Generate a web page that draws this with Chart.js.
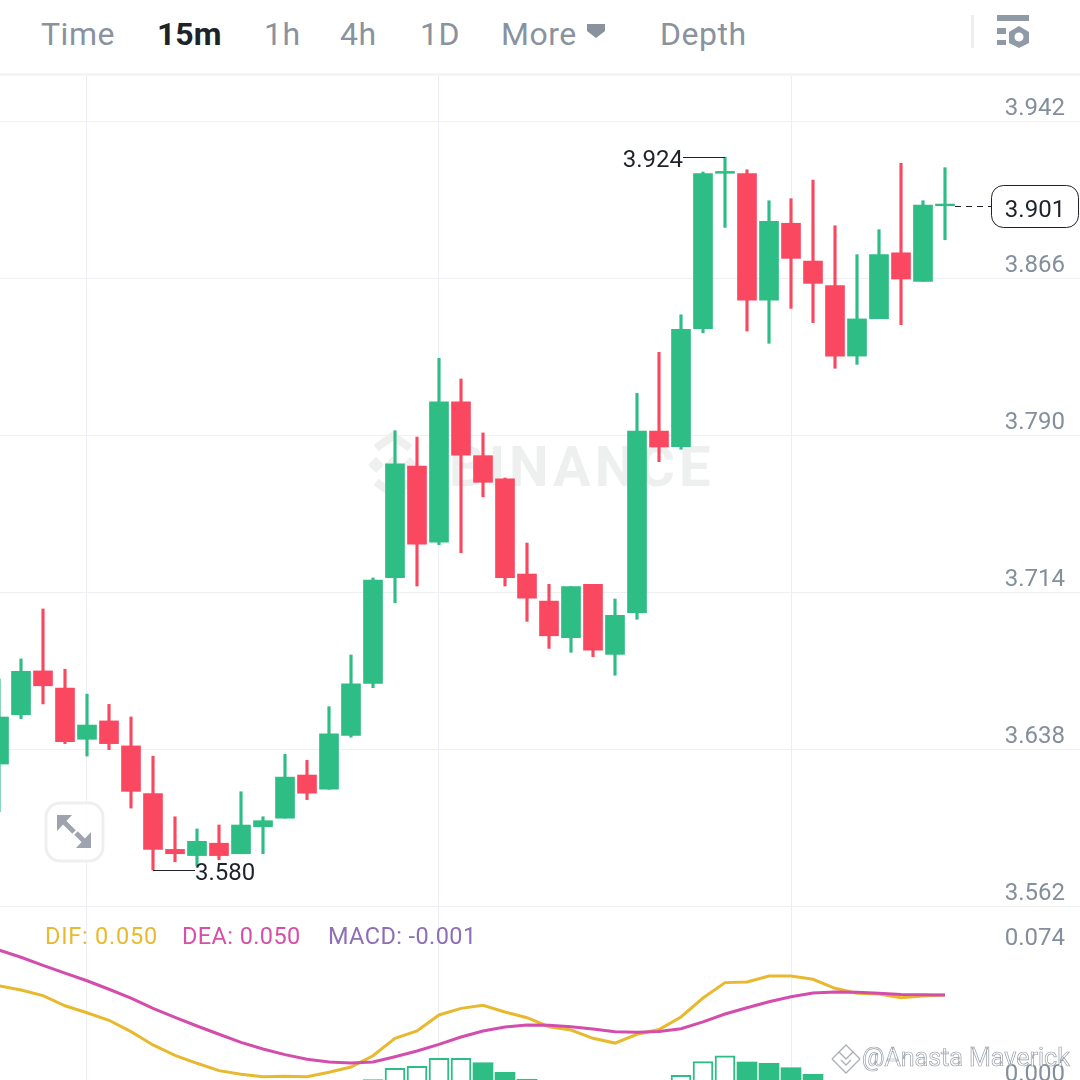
<!DOCTYPE html>
<html>
<head>
<meta charset="utf-8">
<title>15m chart</title>
<script src="https://cdn.jsdelivr.net/npm/chart.js@4"></script>
<style>
  html, body { margin: 0; padding: 0; background: #fff; width: 1080px; height: 1080px; overflow: hidden; font-family: Roboto, sans-serif; }
  #chart { position: absolute; left: 0; top: 75px; }
  .tab { position: absolute; top: 14px; font-size: 32px; line-height: 40px; color: #8a929e; letter-spacing: .5px; white-space: nowrap; }
  .tab.on { color: #1e2329; font-weight: 700; letter-spacing: 0; }
  #headerLine { position: absolute; left: 0; top: 73px; width: 1080px; height: 3px; background: #f5f5f5; }
  .macdLabel { position: absolute; top: 922px; font-size: 23.5px; line-height: 28px; white-space: nowrap; letter-spacing: .4px; }
  #credit { position: absolute; left: 862px; top: 1043px; font-size: 25px; line-height: 30px; color: #fff; -webkit-text-stroke: .7px #9aa0a8; white-space: nowrap; }
  svg { position: absolute; left: 0; top: 0; pointer-events: none; }
</style>
</head>
<body>
<canvas id="chart" width="1080" height="1012"></canvas>

<div id="headerLine"></div>
<span class="tab" style="left:41px">Time</span>
<span class="tab on" style="left:157px">15m</span>
<span class="tab" style="left:264px">1h</span>
<span class="tab" style="left:340px">4h</span>
<span class="tab" style="left:420px">1D</span>
<span class="tab" style="left:501px">More</span>
<span class="tab" style="left:660px">Depth</span>

<span class="macdLabel" style="left:45px;color:#e8ba30;letter-spacing:.75px">DIF: 0.050</span>
<span class="macdLabel" style="left:182px;color:#d74fa6">DEA: 0.050</span>
<span class="macdLabel" style="left:328px;color:#8e6fb5">MACD: -0.001</span>
<span id="credit">@Anasta Maverick</span>

<svg width="1080" height="1080">
  <!-- dropdown triangle -->
  <polygon points="587,24 605,24 605,31 596,38 587,31" fill="#8a929e"/>
  <!-- settings icon -->
  <rect x="971" y="15" width="3" height="33" fill="#eeeeee"/>
  <rect x="997" y="15" width="32" height="6" fill="#9099a6"/>
  <rect x="997" y="28" width="9" height="6" fill="#9099a6"/>
  <rect x="997" y="40" width="9" height="5" fill="#9099a6"/>
  <polygon points="1019,26 1029,32 1029,43 1019,48 1009,43 1009,32" fill="#9099a6"/>
  <circle cx="1019" cy="37" r="4.5" fill="#fff"/>
  <!-- expand button -->
  <rect x="46" y="803" width="57" height="58" rx="14" fill="#fff" fill-opacity=".85" stroke="#eeeff0" stroke-width="3"/>
  <polygon points="57,815 72,815 57,831" fill="#9ea3ad"/>
  <line x1="62" y1="820" x2="74" y2="832" stroke="#9ea3ad" stroke-width="5"/>
  <polygon points="91,848 76,848 91,832" fill="#9ea3ad"/>
  <line x1="86" y1="843" x2="76" y2="833" stroke="#9ea3ad" stroke-width="5"/>
  <!-- credit mark -->
  <g fill="none" stroke="#aab0b7" stroke-width="1.3">
    <polyline points="832,1059 846,1073 860,1059"/>
    <polyline points="832,1059 839,1052 846,1059 853,1052 860,1059"/>
    <polyline points="839,1052 846,1045 853,1052"/>
    <polyline points="841,1060 846,1065 851,1060"/>
  </g>
</svg>

<script>
// candles, left to right
const opens = [3.6307,3.6546,3.6758,3.6675,3.6427,3.6516,3.6395,3.6164,3.5894,3.5864,3.5924,3.5873,3.6004,3.6045,3.6254,3.6185,3.6446,3.6698,3.7209,3.7750,3.7381,3.8060,3.7800,3.7688,3.7227,3.7096,3.6919,3.7177,3.6838,3.7040,3.7919,3.7843,3.8415,3.9167,3.9165,3.8553,3.8925,3.8742,3.8623,3.8282,3.8463,3.8782,3.8644,3.9010];
const highs = [3.6719,3.6816,3.7058,3.6766,3.6646,3.6596,3.6535,3.6345,3.6052,3.5993,3.6012,3.6173,3.6052,3.6354,3.6325,3.6585,3.6835,3.7208,3.7921,3.7890,3.8271,3.8171,3.7910,3.7692,3.7377,3.7177,3.7166,3.7177,3.7106,3.8102,3.8300,3.8482,3.9173,3.9245,3.9184,3.9034,3.9044,3.9134,3.8913,3.8773,3.8894,3.9215,3.9034,3.9194];
const lows = [3.6075,3.6527,3.6598,3.6406,3.6346,3.6377,3.6094,3.5794,3.5834,3.5814,3.5844,3.5873,3.5873,3.6045,3.6135,3.6185,3.6437,3.6677,3.7088,3.7169,3.7369,3.7330,3.7601,3.7169,3.6998,3.6867,3.6848,3.6827,3.6737,3.7008,3.7771,3.7831,3.8395,3.8905,3.8403,3.8344,3.8513,3.8444,3.8223,3.8242,3.8463,3.8434,3.8644,3.8845];
const closes = [3.6535,3.6756,3.6686,3.6415,3.6496,3.6406,3.6175,3.5894,3.5873,3.5933,3.5864,3.6012,3.6033,3.6244,3.6166,3.6454,3.6695,3.7198,3.7760,3.7371,3.8060,3.7802,3.7671,3.7209,3.7110,3.6928,3.7166,3.6858,3.7027,3.7919,3.7842,3.8412,3.9165,3.9176,3.8553,3.8934,3.8755,3.8634,3.8282,3.8462,3.8773,3.8655,3.9013,3.9018];

// MACD pane
const difValues = [.0551,.0528,.0497,.0442,.0404,.0363,.0301,.0229,.0172,.0129,.0089,.0069,.0056,.0058,.0056,.0080,.0109,.0170,.0265,.0305,.0392,.0428,.0445,.0408,.0377,.0328,.0310,.0265,.0239,.0287,.0313,.0381,.0484,.0568,.0571,.0604,.0604,.0586,.0537,.0510,.0506,.0486,.0495,.0501];
const deaValues = [.0745,.0706,.0662,.0620,.0578,.0532,.0483,.0428,.0379,.0332,.0287,.0243,.0207,.0176,.0151,.0136,.0131,.0136,.0165,.0196,.0232,.0272,.0305,.0326,.0337,.0336,.0328,.0316,.0301,.0298,.0302,.0317,.0354,.0397,.0431,.0464,.0491,.0511,.0517,.0515,.0510,.0504,.0502,.0501];
const macdBars = [null,null,null,null,null,null,null,null,null,null,null,null,null,null,null,null,null,.0041,.0102,.0113,.0156,.0156,.0132,.0080,.0042,null,null,null,null,null,null,.0063,.0138,.0170,.0136,.0129,.0105,.0069,null,null,null,null,null,null];

// axes
const priceTicks = [3.942, 3.866, 3.79, 3.714, 3.638, 3.562];
const macdTicks = [0.074, 0];
const gridCandles = [4, 20, 36];

const GREEN = '#2ebd85';
const RED = '#fa4861';
const PRICE_FONT = '24px Roboto, sans-serif';

const candleColor = opens.map((o, i) => closes[i] >= o ? GREEN : RED);
const hollow = macdBars.map((v, i) => v !== null && i > 0 && v >= (macdBars[i - 1] || 0));

// the axes take no room, their labels sit inside the plot
function noRoom(axis) {
    axis.width = 0;
    axis.paddingTop = 0;
    axis.paddingBottom = 0;
    axis.paddingLeft = 0;
    axis.paddingRight = 0;
}

// faint logo and name behind the candles
const watermark = {
    id: 'watermark',
    beforeDatasetsDraw(chart) {
        const c = chart.ctx;
        const cx = 393, cy = 390;
        c.save();
        c.fillStyle = '#eef0f0';
        const diamond = (x, y, r) => {
            c.beginPath();
            c.moveTo(x, y - r); c.lineTo(x + r, y); c.lineTo(x, y + r); c.lineTo(x - r, y);
            c.closePath(); c.fill();
        };
        diamond(cx, cy, 9);
        diamond(cx - 17, cy, 8);
        diamond(cx + 17, cy, 8);
        c.strokeStyle = '#eef0f0';
        c.lineWidth = 8;
        c.beginPath(); c.moveTo(cx - 17, cy - 17); c.lineTo(cx, cy - 29); c.lineTo(cx + 17, cy - 17); c.stroke();
        c.beginPath(); c.moveTo(cx - 17, cy + 17); c.lineTo(cx, cy + 29); c.lineTo(cx + 17, cy + 17); c.stroke();
        c.font = '700 56px Roboto, sans-serif';
        c.letterSpacing = '4px';
        c.textBaseline = 'middle';
        c.fillText('BINANCE', 449, 397);
        c.restore();
    }
};

// high / low tags and the last price box
const priceTags = {
    id: 'priceTags',
    afterDatasetsDraw(chart) {
        const c = chart.ctx, x = chart.scales.x, y = chart.scales.y;
        const hiIdx = highs.indexOf(Math.max(...highs));
        const loIdx = lows.indexOf(Math.min(...lows));
        const last = closes.length - 1;
        c.save();
        c.font = PRICE_FONT;
        c.fillStyle = '#1e2329';
        c.strokeStyle = '#1e2329';
        c.lineWidth = 1;
        c.textBaseline = 'middle';

        const hiX = x.getPixelForValue(hiIdx), hiY = Math.round(y.getPixelForValue(highs[hiIdx])) + .5;
        c.beginPath(); c.moveTo(hiX, hiY); c.lineTo(hiX - 42, hiY); c.stroke();
        c.textAlign = 'right';
        c.fillText('3.924', hiX - 42, hiY + 3);

        const loX = x.getPixelForValue(loIdx), loY = Math.round(y.getPixelForValue(lows[loIdx])) + .5;
        c.beginPath(); c.moveTo(loX, loY); c.lineTo(loX + 42, loY); c.stroke();
        c.textAlign = 'left';
        c.fillText('3.580', loX + 42, loY + 3);

        const lastY = Math.round(y.getPixelForValue(3.901)) + .5;
        c.setLineDash([6, 5]);
        c.beginPath(); c.moveTo(x.getPixelForValue(last) + 10, lastY); c.lineTo(991, lastY); c.stroke();
        c.setLineDash([]);
        c.beginPath();
        c.roundRect(991.5, lastY - 21, 87, 42, 12);
        c.fillStyle = '#fff';
        c.fill();
        c.stroke();
        c.fillStyle = '#1e2329';
        c.textAlign = 'center';
        c.fillText('3.901', 1035, lastY + 4);
        c.restore();
    }
};

const candleIndex = opens.map((o, i) => i);

new Chart(document.getElementById('chart'), {
    type: 'bar',
    data: {
        datasets: [
            {
                type: 'line',
                yAxisID: 'macd',
                data: candleIndex.map(i => ({ x: i, y: difValues[i] })),
                borderColor: '#e8b92e',
                borderWidth: 3,
                pointRadius: 0,
                tension: 0,
                order: 2
            },
            {
                type: 'line',
                yAxisID: 'macd',
                data: candleIndex.map(i => ({ x: i, y: deaValues[i] })),
                borderColor: '#d34dac',
                borderWidth: 3,
                pointRadius: 0,
                tension: 0,
                order: 1
            },
            {
                yAxisID: 'macd',
                data: candleIndex.map(i => ({ x: i, y: macdBars[i] })),
                backgroundColor: hollow.map(h => h ? '#fff' : GREEN),
                borderColor: GREEN,
                borderWidth: hollow.map(h => h ? 2 : 0),
                barThickness: 20,
                grouped: false,
                order: 3
            },
            {
                yAxisID: 'y',
                data: candleIndex.map(i => ({ x: i, y: [lows[i], highs[i]] })),
                backgroundColor: candleColor,
                barThickness: 2.5,
                grouped: false,
                order: 5
            },
            {
                yAxisID: 'y',
                data: candleIndex.map(i => ({ x: i, y: [opens[i], closes[i]] })),
                backgroundColor: candleColor,
                barThickness: 19,
                grouped: false,
                order: 4
            }
        ]
    },
    options: {
        responsive: false,
        animation: false,
        devicePixelRatio: 1,
        layout: { padding: 0 },
        plugins: { legend: { display: false }, tooltip: { enabled: false } },
        scales: {
            x: {
                type: 'linear',
                offset: false,
                min: 1 / 22,
                max: 1 / 22 + 1080 / 22,
                afterBuildTicks: axis => { axis.ticks = gridCandles.map(v => ({ value: v })); },
                ticks: { display: false },
                grid: { offset: false, drawTicks: false, color: '#eceef3' },
                border: { display: false }
            },
            y: {
                position: 'right',
                stack: 'panes',
                stackWeight: 831,
                min: 3.562,
                max: 3.96427,
                afterBuildTicks: axis => { axis.ticks = priceTicks.map(v => ({ value: v })); },
                afterFit: noRoom,
                ticks: {
                    mirror: true,
                    padding: -15,
                    labelOffset: -12,
                    color: '#848e9c',
                    font: { family: 'Roboto, sans-serif', size: 24 },
                    callback: v => v.toFixed(3)
                },
                grid: { drawTicks: false, color: '#eef0f2' },
                border: { display: false }
            },
            macd: {
                position: 'right',
                stack: 'panes',
                stackWeight: 181,
                min: 0,
                max: 0.09849,
                afterBuildTicks: axis => { axis.ticks = macdTicks.map(v => ({ value: v })); },
                afterFit: noRoom,
                ticks: {
                    mirror: true,
                    padding: -15,
                    labelOffset: -12,
                    color: '#848e9c',
                    font: { family: 'Roboto, sans-serif', size: 24 },
                    callback: v => v.toFixed(3)
                },
                grid: { display: false },
                border: { display: false }
            }
        }
    },
    plugins: [watermark, priceTags]
});
</script>
</body>
</html>
